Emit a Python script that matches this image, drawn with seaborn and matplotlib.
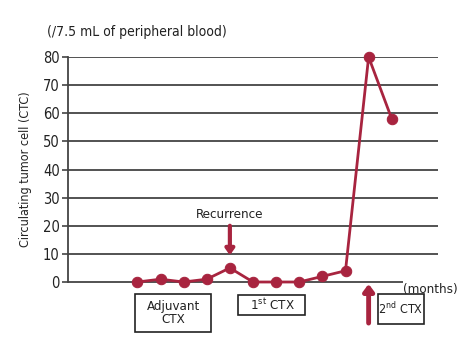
import matplotlib
matplotlib.use("Agg")
import matplotlib.pyplot as plt
from matplotlib.patches import Rectangle
import seaborn as sns
import pandas as pd

# data
visits = [1, 2, 3, 4, 5, 6, 7, 8, 9, 10, 11, 12]
ctc = [0, 1, 0, 1, 5, 0, 0, 0, 2, 4, 80, 58]
yticks = [0, 10, 20, 30, 40, 50, 60, 70, 80]
title_text = "(/7.5 mL of peripheral blood)"
ylabel_text = "Circulating tumor cell (CTC)"

sns.set_style("white")
plt.rcParams['font.family'] = ['DejaVu Sans']
plt.rcParams['font.stretch'] = 'condensed'
plt.rcParams['mathtext.fontset'] = 'custom'
plt.rcParams['mathtext.rm'] = 'DejaVu Sans:stretch=condensed'

RED = "#a8243f"
GRID = "#444444"
TXT = "#222222"

fig = plt.figure(figsize=(4.74, 3.55), dpi=100)
L, R, T, B = 68, 438, 57, 282
ax = fig.add_axes([L / 474, 1 - B / 355, (R - L) / 474, (B - T) / 355])
ax.set_xlim(-2, 14)
ax.set_ylim(0, 80)

for v in yticks[1:]:
    ax.axhline(v, color=GRID, lw=1.3, zorder=1)
ax.hlines(0, -2, 12.47, color=GRID, lw=1.3, zorder=1, clip_on=False)

df = pd.DataFrame({"visit": visits, "ctc": ctc})
sns.lineplot(data=df, x="visit", y="ctc", ax=ax, color=RED, lw=2,
             marker="o", markersize=7.5, markeredgecolor=RED, zorder=3,
             clip_on=False)

for s in ["top", "right", "bottom"]:
    ax.spines[s].set_visible(False)
ax.spines["left"].set_color(GRID)
ax.spines["left"].set_linewidth(1.3)
ax.set_xticks([])
ax.set_yticks(yticks)
ax.tick_params(axis="y", length=4, width=1.2, color=GRID, pad=2,
               labelsize=10.5, labelcolor=TXT, left=True)
ax.set_xlabel("")
ax.set_ylabel(ylabel_text, fontsize=9, color=TXT)
ax.yaxis.set_label_coords(-0.098, 0.5)

fig.text(47 / 474, 1 - 32 / 355, title_text, fontsize=10, color=TXT,
         ha="left", va="center")

ax.text(12.5, -0.3, "(months)", fontsize=9.5, color=TXT,
        ha="left", va="top", clip_on=False)

ax.annotate("", xy=(5, 9.5), xytext=(5, 20),
            arrowprops=dict(arrowstyle="-|>,head_width=0.25,head_length=0.35",
                            color=RED, lw=3, shrinkA=0, shrinkB=0))
ax.text(5, 24, "Recurrence", fontsize=9.5, color=TXT,
        ha="center", va="center")

ax.annotate("", xy=(11, -0.7), xytext=(11, -14.6), annotation_clip=False,
            arrowprops=dict(arrowstyle="-|>,head_width=0.3,head_length=0.4",
                            color=RED, lw=3.5, shrinkA=0, shrinkB=0))

def box(x0, x1, y0, y1, label, fs=9.5):
    r = Rectangle((x0, y1), x1 - x0, y0 - y1, fill=False, ec=TXT,
                  lw=1.2, clip_on=False, zorder=2)
    ax.add_patch(r)
    ax.text((x0 + x1) / 2, (y0 + y1) / 2, label, fontsize=fs,
            color=TXT, ha="center", va="center", clip_on=False,
            linespacing=1.05)

box(0.91, 4.2, -4.3, -17.8, "Adjuvant\nCTX")
box(5.37, 8.27, -4.6, -11.7, r"1$^{\mathrm{st}}$ CTX")
box(11.39, 13.38, -4.3, -14.9, r"2$^{\mathrm{nd}}$ CTX", fs=9)

fig.savefig("out.png", dpi=100)
